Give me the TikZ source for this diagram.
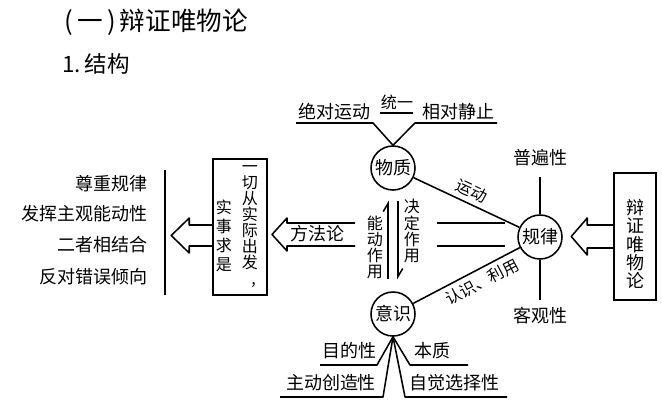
\documentclass[tikz,border=0pt]{standalone}
\usepackage{fontspec}
\setmainfont{Noto Sans CJK SC}
\usetikzlibrary{arrows.meta,positioning}
\newcommand\zw{\fontsize{12.8}{13.1}\selectfont}
\newcommand\xzw{\fontsize{11.4}{11.4}\selectfont}
\tikzset{
  ln/.style={line width=1.1pt, line join=round},
  circ/.style={circle, draw, line width=1.1pt, minimum size=1.1cm, inner sep=0pt, font=\zw},
  txt/.style={inner sep=1pt, font=\zw},
  vtxt/.style={inner sep=0pt, align=center, font=\xzw},
  frame/.style={draw, line width=1.1pt, inner sep=0pt},
  harp/.style={line width=1.1pt, -{Straight Barb[left,length=2mm,width=2.4mm]}}
}
\begin{document}
\begin{tikzpicture}
  \useasboundingbox (0,0) rectangle (16.55,-10.275);
  \node[anchor=west, inner sep=0pt, font=\fontsize{18.2}{20}\selectfont] (title) at (1.6,-0.55) {(\,一\,)\,辩证唯物论};
  \node[anchor=west, inner sep=0pt, font=\fontsize{16}{18}\selectfont] (sub) at (1.55,-1.6) {1.\,结构};

  \node[circ] (wuzhi) at (9.825,-4.2) {物质};
  \node[circ] (guilv) at (13.5,-5.925) {规律};
  \node[circ] (yishi) at (9.825,-7.85) {意识};

  \node[txt] (jd) at (8.35,-2.7875) {绝对运动};
  \node[txt, font=\xzw] (ty) at (9.925,-2.55) {统一};
  \node[txt] (xd) at (11.45,-2.7875) {相对静止};
  \coordinate (jd1) at (7.4,-3.075);
  \coordinate (jd2) at (9.325,-3.075);
  \coordinate (xd1) at (10.375,-3.075);
  \coordinate (xd2) at (12.425,-3.075);
  \coordinate (ty1) at (9.5,-2.825);
  \coordinate (ty2) at (10.325,-2.825);
  \draw[ln] (jd1) -- (jd2) -- (wuzhi.north) -- (xd1) -- (xd2);
  \draw[ln] (ty1) -- (ty2);

  \node[txt] (pb) at (13.5,-3.95) {普遍性};
  \node[txt] (kg) at (13.5,-7.9) {客观性};
  \draw[ln, shorten >=0.225cm] (guilv) -- (pb);
  \draw[ln, shorten >=0.15cm] (guilv) -- (kg);

  \draw[ln] (wuzhi) -- node[sloped, above, font=\xzw] (yd) {运动} (guilv);
  \draw[ln] (yishi) -- node[pos=0.59, sloped, below, font=\xzw] (rs) {认识、利用} (guilv);

  \draw[harp, shorten <=0.3cm, shorten >=0.25cm] ([xshift=-0.125cm]yishi.north) -- ([xshift=-0.125cm]wuzhi.south);
  \draw[harp, shorten <=0.25cm, shorten >=0.3cm] ([xshift=0.125cm]wuzhi.south) -- ([xshift=0.125cm]yishi.north);
  \node[vtxt] (nd) at (9.375,-6.19) {能\\动\\作\\用};
  \node[vtxt] (jz) at (10.3,-5.775) {决\\定\\作\\用};

  \node[frame, minimum width=1.05cm, minimum height=3.175cm] (bzbox) at (15.875,-5.9125) {};
  \node[vtxt, font=\zw] (bz) at (15.875,-6.1) {辩\\证\\唯\\物\\论};
  \coordinate (ar) at (bzbox.west |- 0,-5.625);
  \draw[ln] (ar) -- ++(-0.65,0) -- ++(0,0.175) -- ++(-0.4,-0.4625) -- ++(0.4,-0.4625) -- ++(0,0.175) -- ++(0.65,0);

  \node[txt] (ff) at (7.925,-5.85) {方法论};
  \coordinate (fa) at (8.875,-5.575);
  \coordinate (fb) at (10.925,-5.575);
  \coordinate (fc) at (10.925,-6.15);
  \draw[ln] (fa) -- ++(-1.7,0) -- ++(0,0.125) -- ++(-0.375,-0.4125) -- ++(0.375,-0.4125) -- ++(0,0.125) -- ++(1.7,0);
  \draw[ln] (fb) -- ++(1.7,0);
  \draw[ln] (fc) -- ++(1.7,0);

  \node[frame, minimum width=1.35cm, minimum height=3.4cm] (sbox) at (6.0,-5.675) {};
  \node[vtxt] (sq) at (6.25,-5.6625) {一\\切\\从\\实\\际\\出\\发\\\makebox[1em]{\hspace{0.45em},}};
  \node[vtxt, font=\fontsize{11.4}{13.5}\selectfont] (sj) at (5.6,-5.8875) {实\\事\\求\\是};
  \coordinate (al) at (sbox.west |- 0,-5.625);
  \draw[ln] (al) -- ++(-0.575,0) -- ++(0,0.175) -- ++(-0.45,-0.4375) -- ++(0.45,-0.4375) -- ++(0,0.175) -- ++(0.575,0);

  \node[txt, anchor=east] (zz) at (3.73,-4.5875) {尊重规律};
  \node[txt, anchor=east] (fh) at (3.73,-5.3375) {发挥主观能动性};
  \node[txt, anchor=east] (ez) at (3.73,-6.125) {二者相结合};
  \node[txt, anchor=east] (fd) at (3.73,-6.9125) {反对错误倾向};
  \coordinate (bar1) at (4.125,-4.25);
  \coordinate (bar2) at (4.125,-7.375);
  \draw[ln] (bar1) -- (bar2);

  \coordinate (md1) at (8.0,-9.125);
  \coordinate (md2) at (9.425,-9.125);
  \coordinate (zd1) at (7.0,-9.925);
  \coordinate (zd2) at (9.575,-9.925);
  \coordinate (bz1) at (10.25,-9.125);
  \coordinate (bz2) at (11.7,-9.125);
  \coordinate (zj1) at (10.125,-9.925);
  \coordinate (zj2) at (12.675,-9.925);
  \draw[ln] (md1) -- (md2) -- (yishi.south) -- (bz1) -- (bz2);
  \draw[ln] (zd1) -- (zd2) -- (yishi.south) -- (zj1) -- (zj2);
  \node[txt] (md) at (8.725,-8.7625) {目的性};
  \node[txt] (bzt) at (10.8125,-8.7625) {本质};
  \node[txt] (zd) at (8.275,-9.575) {主动创造性};
  \node[txt] (zj) at (11.35,-9.575) {自觉选择性};
\end{tikzpicture}
\end{document}
